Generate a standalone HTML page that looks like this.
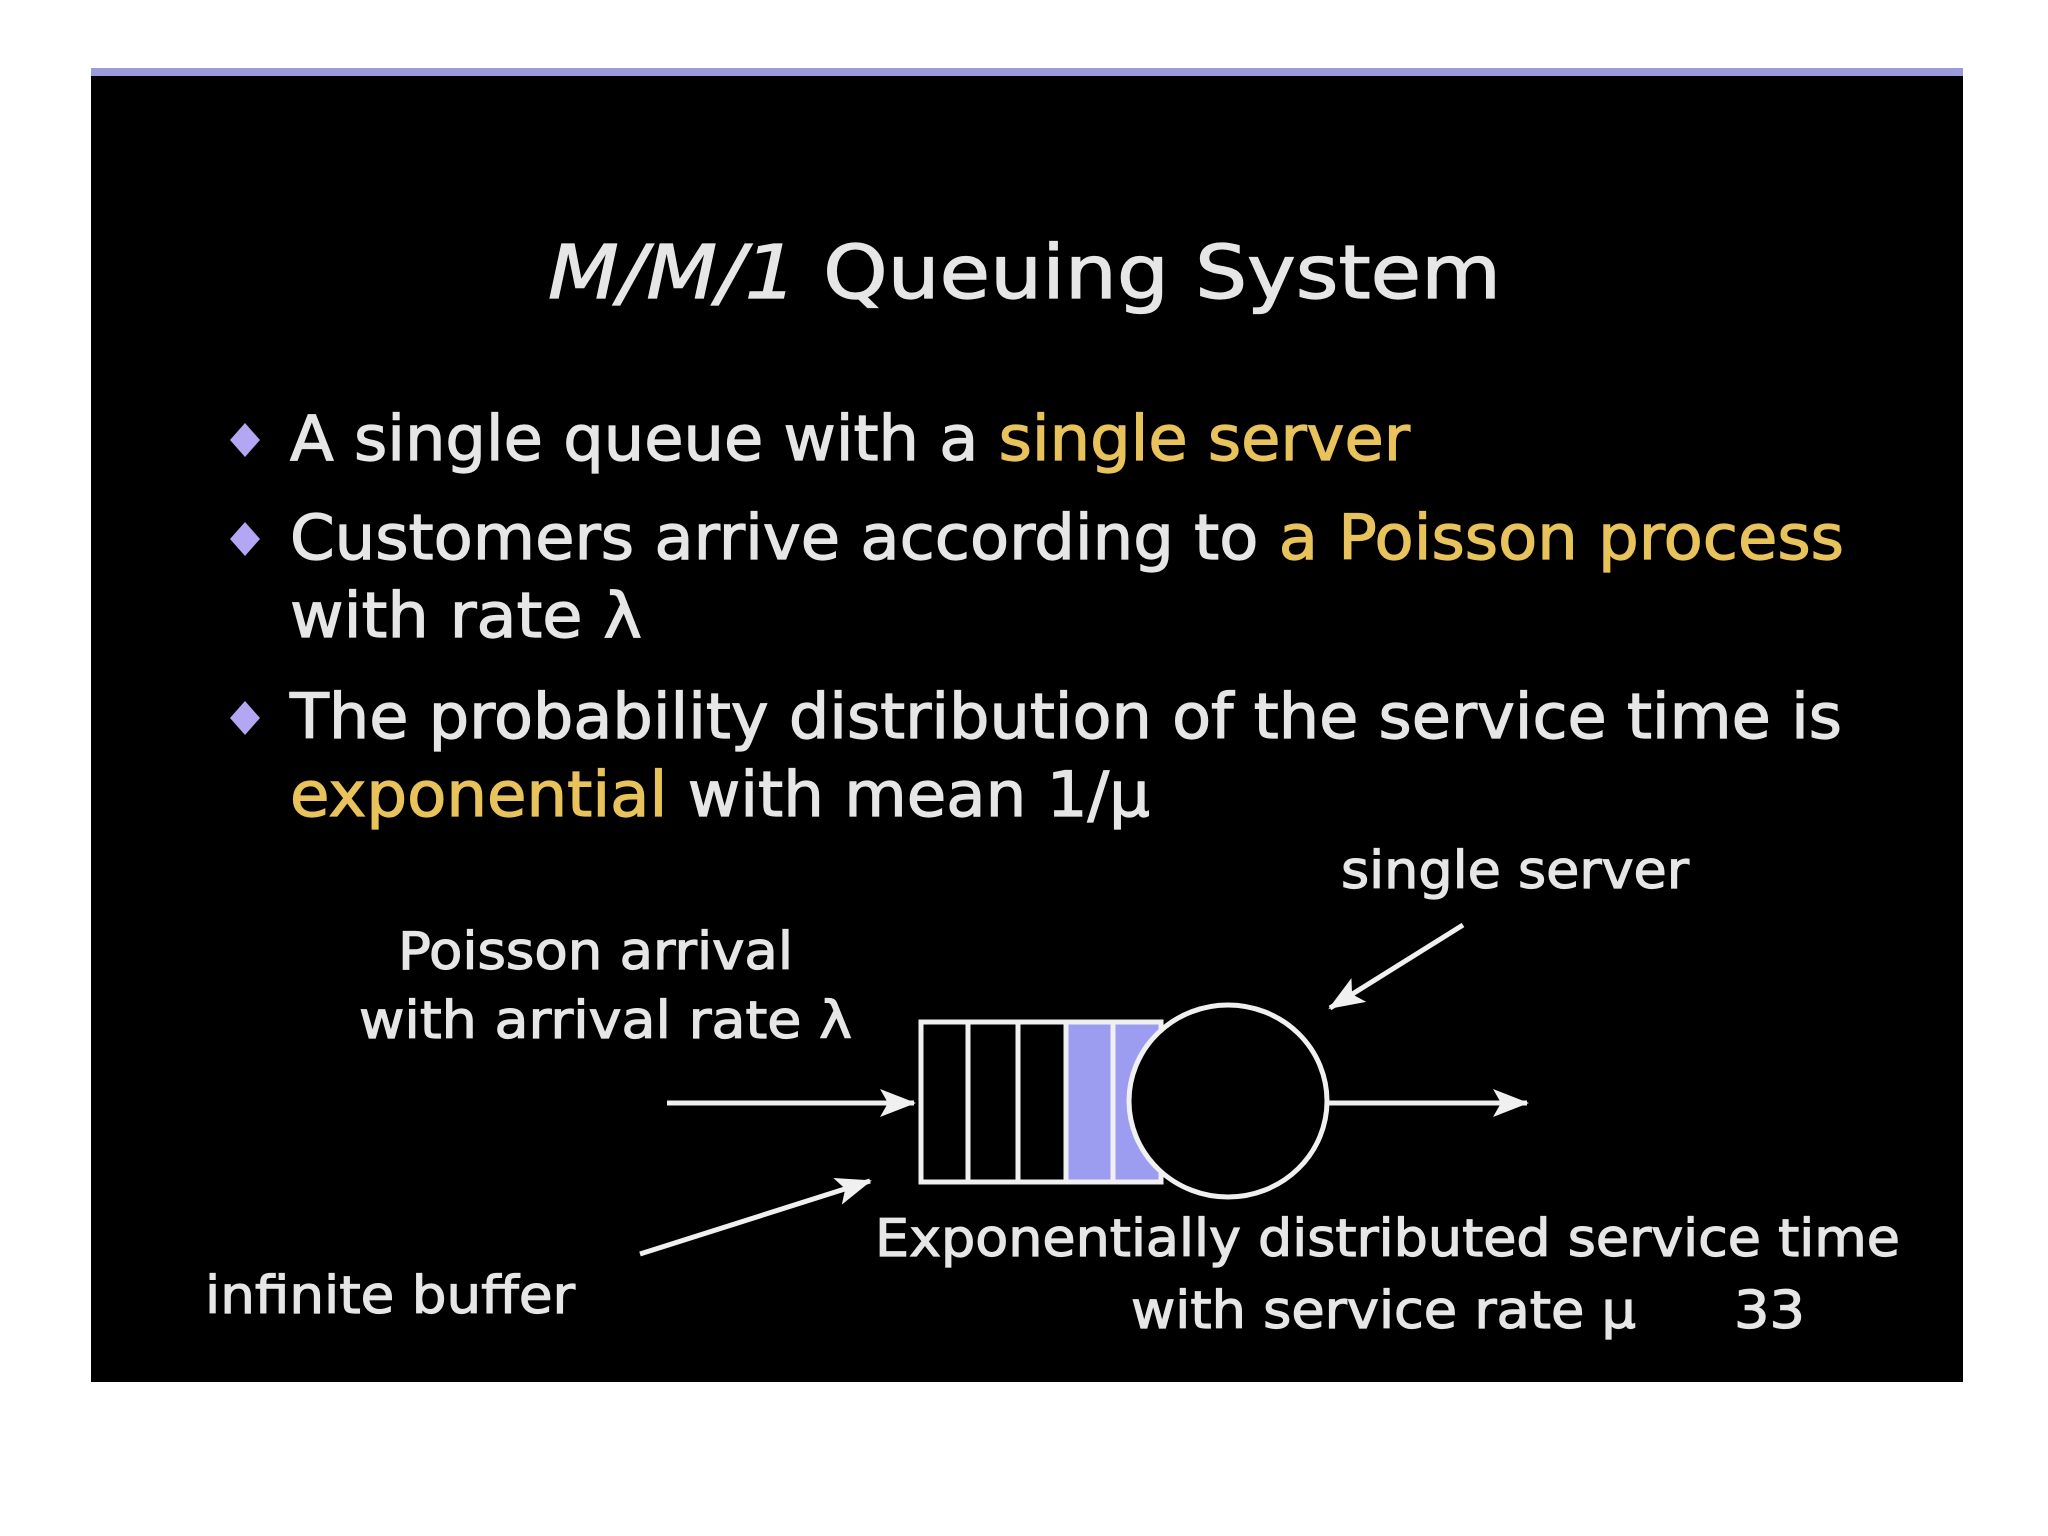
<!DOCTYPE html>
<html><head><meta charset="utf-8"><style>
html,body{margin:0;padding:0;background:#fff;}
svg{display:block;}
text{font-family:"DejaVu Sans","Liberation Sans",sans-serif;fill:#e6e6e6;stroke:#e6e6e6;stroke-width:1.2;}
.y{fill:#e8c25a;stroke:#e8c25a;}
</style></head><body>
<svg width="2048" height="1536" viewBox="0 0 2048 1536" xmlns="http://www.w3.org/2000/svg">
<defs>
<marker id="ah2" markerWidth="36" markerHeight="32" refX="34" refY="16" orient="auto" markerUnits="userSpaceOnUse">
<path d="M0,2 L36,16 L0,30 L8,16 Z" fill="#f0f0f0"/></marker>
</defs>
<rect x="91" y="68" width="1872" height="9" fill="#9b9bdc"/>
<rect x="91" y="76" width="1872" height="1306" fill="#000"/>
<text x="548" y="298" font-size="74" textLength="953" lengthAdjust="spacingAndGlyphs"><tspan font-style="italic">M/M/1</tspan> Queuing System</text>
<g fill="#b3a6f2">
<path d="M245,423 l15,17 l-15,17 l-15,-17 z"/>
<path d="M245,522 l15,17 l-15,17 l-15,-17 z"/>
<path d="M245,701 l15,17 l-15,17 l-15,-17 z"/>
</g>
<text x="290" y="460" font-size="62" textLength="1120" lengthAdjust="spacingAndGlyphs">A single queue with a <tspan class="y">single server</tspan></text>
<text x="290" y="559" font-size="62" textLength="1554" lengthAdjust="spacingAndGlyphs">Customers arrive according to <tspan class="y">a Poisson process</tspan></text>
<text x="290" y="637" font-size="62" textLength="352" lengthAdjust="spacingAndGlyphs">with rate λ</text>
<text x="290" y="738" font-size="62" textLength="1552" lengthAdjust="spacingAndGlyphs">The probability distribution of the service time is</text>
<text x="290" y="816" font-size="62" textLength="860" lengthAdjust="spacingAndGlyphs"><tspan class="y">exponential</tspan> with mean 1/μ</text>

<text x="1341" y="888" font-size="52" textLength="348" lengthAdjust="spacingAndGlyphs">single server</text>
<text x="398" y="969" font-size="52" textLength="395" lengthAdjust="spacingAndGlyphs">Poisson arrival</text>
<text x="359" y="1038" font-size="52" textLength="493" lengthAdjust="spacingAndGlyphs">with arrival rate λ</text>
<text x="205" y="1313" font-size="52" textLength="370" lengthAdjust="spacingAndGlyphs">infinite buffer</text>
<text x="875" y="1256" font-size="52" textLength="1025" lengthAdjust="spacingAndGlyphs">Exponentially distributed service time</text>
<text x="1131" y="1328" font-size="52" textLength="505" lengthAdjust="spacingAndGlyphs">with service rate μ</text>
<text x="1734" y="1328" font-size="52" textLength="71" lengthAdjust="spacingAndGlyphs">33</text>

<rect x="1066" y="1022" width="95" height="160" fill="#9c9cf0"/>
<g stroke="#f0f0f0" stroke-width="5" fill="none">
<rect x="921" y="1022" width="240" height="160"/>
<line x1="968" y1="1022" x2="968" y2="1182"/>
<line x1="1018" y1="1022" x2="1018" y2="1182"/>
<line x1="1066" y1="1022" x2="1066" y2="1182"/>
<line x1="1113" y1="1022" x2="1113" y2="1182"/>
</g>
<ellipse cx="1228" cy="1101" rx="99" ry="96" fill="#000" stroke="#f0f0f0" stroke-width="5"/>
<g stroke="#f0f0f0" stroke-width="5" fill="none">
<line x1="667" y1="1103" x2="914" y2="1103" marker-end="url(#ah2)"/>
<line x1="1327" y1="1103" x2="1527" y2="1103" marker-end="url(#ah2)"/>
<line x1="1463" y1="925" x2="1330" y2="1008" marker-end="url(#ah2)"/>
<line x1="640" y1="1254" x2="870" y2="1181" marker-end="url(#ah2)"/>
</g>
</svg>
</body></html>
